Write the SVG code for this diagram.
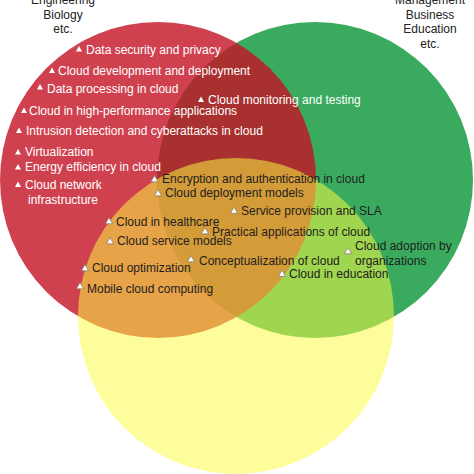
<svg xmlns="http://www.w3.org/2000/svg" width="474" height="474" viewBox="0 0 474 474">
<style>
text{font-family:"Liberation Sans",Arial,sans-serif;font-size:12px}
.w{fill:#ffffff}
.d{fill:#1e1e1e}
.cap{fill:#222222;text-anchor:middle}
.tw{fill:#ffffff}
.td{fill:#ffffff;stroke:#7a7a6a;stroke-width:0.7}
</style>
<defs>
<polygon id="triW" points="0,-3 3,2.4 -3,2.4"/>
<polygon id="triD" points="0,-3.4 3.6,2.8 -3.6,2.8"/>
</defs>
<rect width="474" height="474" fill="#ffffff"/>
<g id="sets">
<circle id="set-business" cx="315" cy="180" r="158" fill="#3aab5e"/>
<circle id="set-engineering" cx="158" cy="180" r="158" fill="rgb(196,18,35)" fill-opacity="0.8"/>
<circle id="set-third" cx="236" cy="316" r="158" fill="rgb(251,251,66)" fill-opacity="0.53"/>
</g>
<g id="set-labels">
<g id="label-engineering">
<text class="cap" x="63" y="4">Engineering</text>
<text class="cap" x="63" y="18.5">Biology</text>
<text class="cap" x="63" y="33">etc.</text>
</g>
<g id="label-business">
<text class="cap" x="430" y="4">Management</text>
<text class="cap" x="430" y="18.5">Business</text>
<text class="cap" x="430" y="33">Education</text>
<text class="cap" x="430" y="47.5">etc.</text>
</g>
</g>
<g id="topics">
<g id="t1"><use href="#triW" class="tw" x="79" y="49"/><text class="w" x="86" y="53.5">Data security and privacy</text></g>
<g id="t2"><use href="#triW" class="tw" x="52" y="70.5"/><text class="w" x="58" y="74.5">Cloud development and deployment</text></g>
<g id="t3"><use href="#triW" class="tw" x="40" y="87"/><text class="w" x="47" y="92.5">Data processing in cloud</text></g>
<g id="t4"><use href="#triW" class="tw" x="201" y="99.5"/><text class="w" x="208" y="103.5">Cloud monitoring and testing</text></g>
<g id="t5"><use href="#triW" class="tw" x="24" y="110.5"/><text class="w" x="29" y="114.5">Cloud in high-performance applications</text></g>
<g id="t6"><use href="#triW" class="tw" x="19" y="130.5"/><text class="w" x="26" y="134.5">Intrusion detection and cyberattacks in cloud</text></g>
<g id="t7"><use href="#triW" class="tw" x="18" y="152"/><text class="w" x="25" y="156">Virtualization</text></g>
<g id="t8"><use href="#triW" class="tw" x="18" y="167"/><text class="w" x="25" y="171">Energy efficiency in cloud</text></g>
<g id="t9"><use href="#triW" class="tw" x="18" y="184.5"/><text class="w" x="25" y="188.5">Cloud network</text><text class="w" x="28" y="203.5">infrastructure</text></g>
<g id="t10"><use href="#triD" class="td" x="154.5" y="179"/><text class="d" x="162" y="183">Encryption and authentication in cloud</text></g>
<g id="t11"><use href="#triD" class="td" x="158" y="193"/><text class="d" x="165" y="197">Cloud deployment models</text></g>
<g id="t12"><use href="#triD" class="td" x="234" y="210.5"/><text class="d" x="241" y="215">Service provision and SLA</text></g>
<g id="t13"><use href="#triD" class="td" x="109" y="221"/><text class="d" x="116" y="225.5">Cloud in healthcare</text></g>
<g id="t14"><use href="#triD" class="td" x="205" y="231"/><text class="d" x="212" y="235.5">Practical applications of cloud</text></g>
<g id="t15"><use href="#triD" class="td" x="110" y="241"/><text class="d" x="117" y="245">Cloud service models</text></g>
<g id="t16"><use href="#triD" class="td" x="348" y="251"/><text class="d" x="355" y="250">Cloud adoption by</text><text class="d" x="355" y="264.5">organizations</text></g>
<g id="t17"><use href="#triD" class="td" x="191" y="259"/><text class="d" x="199" y="265">Conceptualization of cloud</text></g>
<g id="t18"><use href="#triD" class="td" x="282" y="273.5"/><text class="d" x="289" y="277.5">Cloud in education</text></g>
<g id="t19"><use href="#triD" class="td" x="85" y="268"/><text class="d" x="92" y="272">Cloud optimization</text></g>
<g id="t20"><use href="#triD" class="td" x="80" y="286"/><text class="d" x="87" y="292.5">Mobile cloud computing</text></g>
</g>
</svg>
